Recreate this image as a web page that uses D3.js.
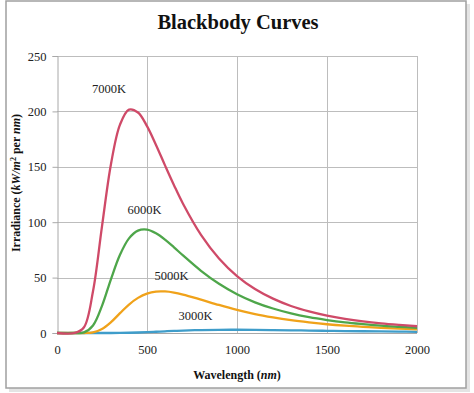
<!DOCTYPE html>
<html><head><meta charset="utf-8">
<script src="https://cdn.jsdelivr.net/npm/d3@7"></script>
<style>body{margin:0;background:#fff}svg{display:block}text{font-family:"Liberation Serif","Times New Roman",serif}</style>
</head><body><svg id="c" width="474" height="393"></svg>
<script>
const wavelengths = [0,100,150,200,250,300,350,400,450,500,550,600,650,700,800,900,1000,1100,1200,1300,1400,1500,1600,1700,1800,1900,2000];
const t7000 = [0,0.04,5.2,37.6,96.3,152.6,188.1,201.6,199.0,186.7,169.7,151.3,133.4,116.7,88.6,67.3,51.4,39.7,31.0,24.4,19.5,15.7,12.8,10.5,8.7,7.3,6.1];
const t6000 = [0,0,0.53,6.8,24.5,48.7,70.6,85.4,92.4,93.3,90.0,84.3,77.3,70.0,56.1,44.4,35.0,27.7,22.1,17.7,14.3,11.7,9.6,8.0,6.6,5.6,4.7];
const t5000 = [0,0,0.02,0.62,3.6,9.8,17.9,25.7,31.7,35.6,37.4,37.5,36.5,34.7,30.1,25.3,20.9,17.1,14.1,11.6,9.6,7.9,6.6,5.6,4.7,4.0,3.4];
const t3000 = [0,0,0,0,0,0.02,0.08,0.21,0.45,0.77,1.14,1.52,1.89,2.21,2.67,2.89,2.92,2.81,2.63,2.42,2.19,1.97,1.75,1.56,1.39,1.23,1.09];
const seriesNames = ["7000K","6000K","5000K","3000K"];
const seriesColors = ["#cf4a68","#4ea64a","#f0a21a","#3f9dca"];
const xTicks = [0,500,1000,1500,2000];
const yTicks = [0,50,100,150,200,250];
const labelX = [289,486,636,769];
const labelY = [216.6,107.4,47.8,11.7];

const svg = d3.select("#c");
// frame with shadow
svg.append("rect").attr("x",9).attr("y",4).attr("width",461).attr("height",388).attr("fill","#e4e4e4");
svg.append("rect").attr("x",6).attr("y",1).attr("width",460).attr("height",387).attr("fill","#fff").attr("stroke","#a0a0a0").attr("stroke-width",1.5);

const x = d3.scaleLinear().domain([0,2000]).range([57,417]);
const y = d3.scaleLinear().domain([0,250]).range([333,56]);

const g = svg.append("g");
g.selectAll(".hg").data(yTicks.slice(1)).join("line")
 .attr("x1",x(0)).attr("x2",x(2000)).attr("y1",d=>Math.round(y(d))+0.5).attr("y2",d=>Math.round(y(d))+0.5)
 .attr("stroke","#bdbdbd").attr("stroke-width",1);
g.selectAll(".vg").data(xTicks.slice(1)).join("line")
 .attr("y1",y(0)).attr("y2",y(250)).attr("x1",d=>Math.round(x(d))+0.5).attr("x2",d=>Math.round(x(d))+0.5)
 .attr("stroke","#bdbdbd").attr("stroke-width",1);

const yAxis = d3.axisLeft(y).tickValues(yTicks).tickFormat(d3.format("d")).tickSize(5).tickPadding(6);
const ya = svg.append("g").attr("transform",`translate(${x(0)+0.5},0)`).call(yAxis);
const xAxis = d3.axisBottom(x).tickValues(xTicks).tickFormat(d3.format("d")).tickSize(0).tickPadding(12);
const xa = svg.append("g").attr("transform",`translate(0,${y(0)+0.5})`).call(xAxis);
[ya,xa].forEach(a=>{
  a.attr("font-family",null).attr("font-size",null);
  a.selectAll("path,line").attr("stroke","#a8a8a8");
  a.selectAll("text").style("font-family","'Liberation Serif',serif").style("font-size","12.5px").attr("fill","#222");
});
xa.select("path").attr("stroke","none");
g.append("line").attr("x1",x(0)).attr("x2",x(2000)).attr("y1",y(0)+0.5).attr("y2",y(0)+0.5).attr("stroke","#a8a8a8");

const allSeries = [t7000,t6000,t5000,t3000];
const line = d3.line().x((d,i)=>x(wavelengths[i])).y(d=>y(d)).curve(d3.curveCatmullRom.alpha(0.5));
svg.selectAll(".ln").data([3,2,1,0]).join("path")
 .attr("d",i=>line(allSeries[i])).attr("fill","none")
 .attr("stroke",i=>seriesColors[i]).attr("stroke-width",2.3);

svg.selectAll(".lb").data(seriesNames).join("text")
 .attr("x",(d,i)=>x(labelX[i])).attr("y",(d,i)=>y(labelY[i]))
 .attr("text-anchor","middle").style("font-size","12.5px").attr("fill","#222")
 .text(d=>d);

svg.append("text").attr("x",238).attr("y",29).attr("text-anchor","middle")
 .attr("font-weight","bold").style("font-size","20.5px").attr("fill","#111")
 .text("Blackbody Curves");

const xl = svg.append("text").attr("x",237).attr("y",379).attr("text-anchor","middle")
 .attr("font-weight","bold").style("font-size","12px").attr("fill","#111");
xl.append("tspan").text("Wavelength (");
xl.append("tspan").attr("font-style","italic").text("nm");
xl.append("tspan").text(")");

const yl = svg.append("text").attr("transform","translate(20,183) rotate(-90)").attr("text-anchor","middle")
 .attr("font-weight","bold").style("font-size","12px").attr("fill","#111");
yl.append("tspan").text("Irradiance (");
yl.append("tspan").attr("font-style","italic").text("kW/m");
yl.append("tspan").style("font-size","8px").attr("dy",-4).text("2");
yl.append("tspan").attr("dy",4).text(" per ");
yl.append("tspan").attr("font-style","italic").text("nm");
yl.append("tspan").text(")");
</script></body></html>
